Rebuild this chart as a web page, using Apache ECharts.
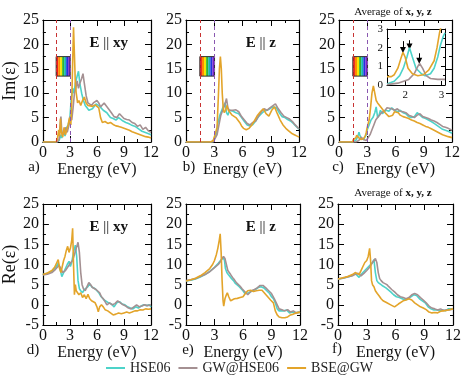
<!DOCTYPE html>
<html><head><meta charset="utf-8">
<script src="https://cdn.jsdelivr.net/npm/echarts@6/dist/echarts.min.js"></script>
<style>html,body{margin:0;padding:0;background:#fff}#c{width:474px;height:384px}</style>
</head><body><div id="c"></div>
<script>
const seriesNames = ['HSE06', 'GW@HSE06', 'BSE@GW'];

// ---- Im(eps), E || xy
const imXY_HSE06 = [[0,0],[1.5,0],[1.8,0.3],[2.0,1.5],[2.1,0.8],[2.3,2.5],[2.45,1.2],[2.6,2.8],[2.8,3.5],[3.0,5],[3.15,9],[3.3,11],[3.45,10],[3.6,12],[3.8,13.5],[3.95,14.5],[4.1,12],[4.3,10],[4.5,8.5],[4.7,7.5],[4.9,7],[5.1,6.5],[5.3,6.3],[5.5,6.8],[5.7,7],[5.9,7.8],[6.1,8],[6.3,7.3],[6.5,7.5],[6.7,6.5],[6.9,6.8],[7.1,6],[7.3,5.5],[7.5,5],[7.8,4.8],[8.1,4.5],[8.4,5],[8.6,4.8],[8.9,4.3],[9.2,4.0],[9.5,3.8],[9.8,3.5],[10.1,3.3],[10.4,3.0],[10.7,2.6],[11.0,2.2],[11.3,2.0],[11.6,1.8],[12,1.5]];
const imXY_GW = [[0,0],[1.6,0],[1.8,0.5],[1.9,3],[2.0,5.2],[2.1,2],[2.3,1.5],[2.5,3],[2.7,2],[2.9,3.5],[3.05,5.3],[3.2,4.5],[3.35,7],[3.5,10],[3.65,11],[3.8,12.5],[3.95,11],[4.1,12],[4.3,13],[4.45,14],[4.6,12],[4.8,9.5],[5.0,8],[5.2,8.2],[5.4,7.5],[5.6,8],[5.8,7.8],[6.0,8.5],[6.2,8],[6.4,7.2],[6.6,7.6],[6.8,8],[7.0,7.5],[7.2,7.8],[7.4,6.5],[7.6,6],[7.9,5.2],[8.2,5.0],[8.5,5.8],[8.7,5.5],[9.0,4.8],[9.3,4.6],[9.6,4.5],[9.9,4.0],[10.2,3.8],[10.5,3.2],[10.8,3.5],[11.1,2.6],[11.4,3.0],[11.7,2.3],[12,2.0]];
const imXY_BSE = [[0,0],[1.45,0],[1.6,0.5],[1.75,2.5],[1.85,1.2],[1.95,4.8],[2.05,2.0],[2.2,1.0],[2.35,3.0],[2.5,1.5],[2.65,2.5],[2.8,3.5],[2.95,5],[3.1,3.5],[3.2,8],[3.3,16],[3.4,23.5],[3.5,18],[3.6,12],[3.7,10],[3.85,8],[4.0,8.5],[4.2,7.5],[4.4,8.5],[4.6,9.2],[4.8,8],[5.0,7.5],[5.2,7.8],[5.5,7.3],[5.8,7.6],[6.0,7.8],[6.2,7],[6.4,5],[6.6,4],[6.9,4.2],[7.2,3.8],[7.5,4],[7.8,3.6],[8.1,3.3],[8.4,3.2],[8.7,3.0],[9.0,2.8],[9.3,2.6],[9.6,2.4],[9.9,2.1],[10.2,1.9],[10.5,1.7],[10.8,1.5],[11.1,1.3],[11.4,1.1],[11.7,1.0],[12,0.8]];

// ---- Im(eps), E || z
const imZ_HSE06 = [[0,0],[2.8,0],[3.0,0.3],[3.2,1.5],[3.4,4],[3.6,5.5],[3.8,6.5],[4.0,7.5],[4.15,8],[4.3,6],[4.45,5.5],[4.6,6.5],[4.8,6.2],[5.0,6.3],[5.3,6.0],[5.6,5.8],[5.9,5],[6.2,4.2],[6.5,3.5],[6.8,3.3],[7.1,3.6],[7.4,4.3],[7.7,5.2],[8.0,5.8],[8.3,6.3],[8.6,6.5],[8.9,6.8],[9.2,7.2],[9.4,7.5],[9.6,7],[9.9,6],[10.2,5.2],[10.5,5],[10.8,4.6],[11.1,4.3],[11.4,3.8],[11.7,3.2],[12,2.6]];
const imZ_GW = [[0,0],[2.9,0],[3.1,0.2],[3.3,1.5],[3.5,3.5],[3.7,5.5],[3.9,6.5],[4.1,7.5],[4.3,8.9],[4.45,7],[4.6,6.5],[4.8,6.8],[5.0,6.5],[5.3,6.6],[5.6,6.2],[5.9,5.2],[6.2,4.5],[6.5,3.8],[6.8,3.5],[7.1,4],[7.4,4.3],[7.7,5.3],[8.0,6.2],[8.3,6.8],[8.6,6.5],[8.9,7],[9.2,7.4],[9.5,7.8],[9.8,6.8],[10.1,6],[10.4,5.3],[10.7,5],[11.0,4.7],[11.3,4.2],[11.6,3.5],[12,2.7]];
const imZ_BSE = [[0,0],[2.6,0],[2.9,0.3],[3.1,0.6],[3.3,3],[3.45,10],[3.55,15],[3.65,17.5],[3.75,15],[3.85,10],[3.95,7],[4.05,6],[4.2,6.5],[4.35,7.5],[4.5,6.5],[4.7,6],[4.9,5.5],[5.1,5.8],[5.3,5],[5.5,4.5],[5.7,4],[5.9,3.3],[6.1,2.8],[6.4,2.5],[6.7,2.8],[7.0,3.5],[7.3,4.5],[7.6,5.5],[7.9,6.2],[8.2,6.8],[8.5,5.8],[8.8,5.3],[9.1,6.5],[9.4,7.2],[9.7,5.8],[10.0,4.5],[10.3,3.5],[10.6,2.8],[10.9,2.3],[11.2,1.8],[11.5,1.5],[11.8,1.2],[12,1.0]];

// ---- Im(eps), average of x, y, z
const imAvg_HSE06 = [[0,0],[1.5,0],[1.7,0.2],[1.85,0.5],[1.95,0.9],[2.05,1.5],[2.12,2.0],[2.2,1.5],[2.3,0.9],[2.45,0.6],[2.6,0.5],[2.8,0.9],[2.9,1.5],[3.0,2.5],[3.2,3.5],[3.4,4.5],[3.6,5],[3.8,6],[3.95,7.2],[4.1,5],[4.25,5.5],[4.4,6.5],[4.6,5.8],[4.8,6],[5.0,6.5],[5.3,6.3],[5.6,7],[5.9,6.5],[6.2,6.2],[6.5,6.5],[6.8,6],[7.1,5.8],[7.4,5.2],[7.7,5],[8.0,5.2],[8.3,6],[8.6,5.5],[8.9,5],[9.2,4.8],[9.5,4.5],[9.8,4.2],[10.1,3.8],[10.4,3.4],[10.7,3.0],[11.0,2.6],[11.3,2.4],[11.6,2.2],[12,1.8]];
const imAvg_GW = [[0,0],[1.8,0],[2.1,0.3],[2.25,0.6],[2.35,1.0],[2.4,1.15],[2.48,0.9],[2.58,0.5],[2.7,0.35],[2.9,0.3],[3.1,0.5],[3.3,1.5],[3.5,2.5],[3.7,3.5],[3.9,4.5],[4.1,5],[4.3,5.5],[4.5,6],[4.7,5.8],[4.9,6.5],[5.1,7],[5.3,7.2],[5.6,6.8],[5.9,6.5],[6.2,6.8],[6.5,6.3],[6.8,6.2],[7.1,6],[7.4,5.5],[7.7,5.3],[8.0,5.0],[8.3,5.5],[8.6,5.8],[8.9,5.2],[9.2,5],[9.5,4.8],[9.8,4.5],[10.1,4.3],[10.4,4.0],[10.7,3.6],[11.0,3.2],[11.3,3.0],[11.6,2.8],[12,2.4]];
const imAvg_BSE = [[0,0],[1.45,0],[1.5,0.45],[1.62,0.45],[1.7,0.55],[1.8,0.9],[1.88,1.4],[1.94,1.8],[2.0,1.5],[2.08,0.9],[2.2,0.6],[2.35,0.5],[2.5,0.55],[2.65,0.8],[2.8,1.3],[2.9,2.0],[2.97,2.8],[3.05,3.2],[3.2,4.5],[3.35,7],[3.5,10],[3.65,11.5],[3.8,10],[3.95,8.5],[4.1,8],[4.3,7.6],[4.5,7],[4.7,6.5],[4.9,6],[5.1,5.8],[5.3,5.2],[5.5,5.0],[5.7,5.5],[5.9,6.2],[6.1,6.5],[6.3,6],[6.5,5.5],[6.8,5.2],[7.1,5.0],[7.4,4.8],[7.7,4.5],[8.0,4.3],[8.3,4.0],[8.6,3.8],[8.9,3.5],[9.2,3.2],[9.5,3.0],[9.8,2.7],[10.1,2.4],[10.4,2.1],[10.7,1.8],[11.0,1.5],[11.3,1.3],[11.6,1.1],[12,0.9]];

// ---- Inset (average, 1.5-3.1 eV)
const inset_HSE06 = [[1.5,0.05],[1.7,0.2],[1.85,0.5],[1.95,0.9],[2.05,1.5],[2.12,2.0],[2.2,1.5],[2.3,0.9],[2.45,0.6],[2.55,0.5],[2.7,0.6],[2.8,0.9],[2.9,1.5],[2.97,2.1],[3.05,2.6],[3.1,2.8]];
const inset_GW = [[1.5,0.02],[1.8,0.1],[2.1,0.3],[2.25,0.6],[2.35,1.0],[2.4,1.15],[2.48,0.9],[2.58,0.5],[2.7,0.35],[2.9,0.3],[3.1,0.3]];
const inset_BSE = [[1.5,0.45],[1.55,0.55],[1.62,0.45],[1.7,0.55],[1.8,0.9],[1.88,1.4],[1.94,1.75],[2.0,1.5],[2.08,0.9],[2.2,0.6],[2.35,0.5],[2.5,0.55],[2.65,0.8],[2.8,1.3],[2.88,2.0],[2.95,2.8],[3.0,3.2],[3.1,3.5]];
const insetArrows = [[1.94, 2.35, 1.88], [2.12, 2.4, 2.06], [2.39, 1.7, 1.3]];

// ---- Re(eps), E || xy
const reXY_HSE06 = [[0,7.5],[0.5,7.8],[1.0,8.3],[1.4,9.2],[1.7,10.3],[1.9,9],[2.1,7],[2.3,8],[2.5,9],[2.7,10],[2.9,10.8],[3.05,9.5],[3.2,10.5],[3.4,13],[3.6,14.8],[3.75,12],[3.9,6],[4.05,4],[4.2,3.5],[4.4,3],[4.6,3.8],[4.8,4.2],[5.0,4.5],[5.2,5.2],[5.4,4.5],[5.6,4.8],[5.8,4],[6.0,3.5],[6.2,3],[6.4,2.2],[6.6,1.8],[6.8,1.2],[7.0,1],[7.3,0.5],[7.6,0.2],[7.9,-0.5],[8.2,0.5],[8.5,0.8],[8.8,0.2],[9.1,0],[9.4,-0.5],[9.7,-0.8],[10.0,-1],[10.3,-0.5],[10.6,-0.8],[10.9,-0.3],[11.2,0],[11.5,-0.2],[11.8,0],[12,-0.5]];
const reXY_GW = [[0,7.4],[0.5,7.6],[1.0,8],[1.4,8.8],[1.8,9.8],[2.0,9],[2.2,8],[2.5,8.5],[2.8,9.5],[3.1,10.5],[3.3,11],[3.5,12.5],[3.7,14],[3.9,15.5],[4.05,13],[4.2,8],[4.35,5],[4.5,4],[4.7,3.5],[4.9,4.5],[5.1,5.5],[5.3,5],[5.5,4.3],[5.7,4.5],[5.9,3.8],[6.1,3.5],[6.3,3],[6.5,2],[6.7,1.5],[6.9,0.8],[7.1,0],[7.4,0.5],[7.7,0],[8.0,0.3],[8.3,1],[8.6,0.5],[8.9,0],[9.2,-0.3],[9.5,-0.8],[9.8,-1],[10.1,-0.5],[10.4,0],[10.7,-0.5],[11.0,-0.3],[11.3,0],[11.6,-0.2],[12,0]];
const reXY_BSE = [[0,7.5],[0.5,7.9],[1.0,8.5],[1.3,9.3],[1.55,10.5],[1.7,11.2],[1.85,9],[2.0,8],[2.15,9.5],[2.3,11],[2.45,12],[2.6,13.5],[2.75,14.5],[2.9,13],[3.05,14],[3.2,16],[3.3,19],[3.4,10],[3.5,2.5],[3.6,5],[3.7,3.5],[3.85,3],[4.0,2.5],[4.2,3],[4.4,1.8],[4.6,2.5],[4.8,1.5],[5.0,2.6],[5.2,1.5],[5.4,1],[5.6,1.2],[5.8,0.5],[6.0,-0.5],[6.15,-1.7],[6.3,-0.5],[6.5,0],[6.7,-0.5],[6.9,-1.2],[7.2,-1.5],[7.5,-2],[7.8,-2.5],[8.1,-2.3],[8.4,-2],[8.7,-2.2],[9.0,-2],[9.3,-1.8],[9.6,-2],[9.9,-1.8],[10.2,-1.5],[10.5,-1.5],[10.8,-1.2],[11.1,-1.3],[11.4,-1],[11.7,-1.1],[12,-1]];

// ---- Re(eps), E || z
const reZ_HSE06 = [[0,5.9],[0.5,6.1],[1.0,6.4],[1.5,6.9],[2.0,7.5],[2.5,8.3],[3.0,9.3],[3.4,10.3],[3.7,11.2],[3.9,11.8],[4.05,11],[4.15,9],[4.3,8],[4.45,7.5],[4.6,7.8],[4.8,6.5],[5.0,6],[5.2,5.3],[5.4,5],[5.6,4.5],[5.8,4],[6.0,3.5],[6.2,2.8],[6.4,2.5],[6.6,3],[6.8,3.3],[7.0,3.5],[7.3,3.8],[7.6,4.3],[7.9,4.5],[8.2,4.2],[8.5,3.5],[8.8,2.8],[9.0,2],[9.2,1.5],[9.4,0.5],[9.6,-1],[9.8,-1.5],[10.0,-1.2],[10.3,-1.5],[10.6,-1.3],[10.9,-2],[11.2,-1.8],[11.5,-2],[12,-1.8]];
const reZ_GW = [[0,6],[0.5,6.2],[1.0,6.5],[1.5,7],[2.0,7.5],[2.5,8.2],[3.0,9.2],[3.4,10],[3.7,11],[3.95,12],[4.1,11.5],[4.25,10],[4.4,8.5],[4.55,8],[4.7,7.5],[4.9,6.8],[5.1,6.2],[5.3,5.5],[5.5,5.2],[5.7,4.6],[5.9,4],[6.1,3.5],[6.3,3],[6.5,2.5],[6.7,3],[6.9,3.5],[7.2,3.8],[7.5,4.2],[7.8,4.8],[8.1,4.8],[8.4,4.2],[8.7,3.5],[9.0,2.8],[9.3,1.5],[9.6,0],[9.8,-1],[10.1,-1.2],[10.4,-1.5],[10.7,-1.2],[11.0,-1.8],[11.3,-1.5],[11.6,-2],[12,-1.8]];
const reZ_BSE = [[0,5.9],[0.5,6.2],[1.0,6.6],[1.5,7.2],[2.0,8],[2.5,9],[2.8,10],[3.0,11],[3.2,12.5],[3.35,14],[3.5,16],[3.6,17.6],[3.7,13],[3.8,6],[3.9,1],[3.97,-0.3],[4.1,1.5],[4.25,2.5],[4.35,3],[4.5,2],[4.7,1],[4.9,1.2],[5.1,1.5],[5.4,1.6],[5.7,1.8],[6.0,2],[6.3,3],[6.5,3.5],[6.8,3.6],[7.1,3.3],[7.4,3.5],[7.7,3.6],[8.0,3.6],[8.3,2.8],[8.6,2],[8.9,1.2],[9.2,0.5],[9.4,-1.5],[9.6,-2.5],[9.8,-3],[10.1,-3.2],[10.4,-3.2],[10.7,-3],[11.0,-2.5],[11.3,-2.3],[11.6,-2],[12,-1.8]];

// ---- Re(eps), average of x, y, z
const reAvg_HSE06 = [[0,6.4],[0.5,6.6],[1.0,6.9],[1.5,7.3],[1.8,7.8],[2.0,7.5],[2.2,6.8],[2.4,7.5],[2.6,8],[2.8,8.5],[3.0,8.8],[3.2,9.5],[3.4,10],[3.6,10.5],[3.75,11.2],[3.9,8],[4.05,6],[4.2,5.5],[4.4,5.2],[4.6,4.8],[4.8,4.5],[5.0,4.2],[5.2,3.8],[5.5,3.2],[5.8,2.5],[6.1,2],[6.4,1.8],[6.7,1.5],[7.0,1.2],[7.3,1.5],[7.6,2],[7.9,2.5],[8.2,2.3],[8.5,1.5],[8.8,1],[9.1,0.5],[9.4,-0.5],[9.7,-1],[10.0,-1.3],[10.3,-1.2],[10.6,-1.5],[10.9,-1.2],[11.2,-1.5],[11.5,-1],[12,-1]];
const reAvg_GW = [[0,6.4],[0.5,6.6],[1.0,6.9],[1.5,7.2],[1.8,7.6],[2.1,7.8],[2.4,7.2],[2.7,7.8],[3.0,8.5],[3.3,9.3],[3.6,10.5],[3.9,11.5],[4.05,10.5],[4.2,8],[4.35,6.5],[4.5,6],[4.7,5.5],[4.9,5.2],[5.1,5],[5.3,4.5],[5.6,3.8],[5.9,3.2],[6.2,2.5],[6.5,2],[6.8,1.8],[7.1,1.5],[7.4,1.8],[7.7,2.5],[8.0,2.8],[8.3,2.5],[8.6,1.8],[8.9,1.2],[9.2,0.5],[9.5,-0.3],[9.8,-0.8],[10.1,-1],[10.4,-1.3],[10.7,-1],[11.0,-1.4],[11.3,-1.2],[11.6,-1.3],[12,-1]];
const reAvg_BSE = [[0,6.4],[0.5,6.7],[1.0,7],[1.5,7.5],[1.8,8],[2.0,7.8],[2.2,7.5],[2.4,8.5],[2.6,9.5],[2.8,10.5],[3.0,11],[3.15,12],[3.3,14],[3.4,11],[3.5,6],[3.6,5],[3.75,4.5],[3.9,3.5],[4.1,2.8],[4.3,2.2],[4.5,1.5],[4.7,1],[4.9,0.8],[5.1,0.5],[5.3,0.2],[5.5,0],[5.7,-0.3],[5.9,-0.5],[6.1,-0.3],[6.3,0.2],[6.5,0.5],[6.8,1],[7.1,1.2],[7.4,1.5],[7.7,1.2],[8.0,0.5],[8.3,0],[8.6,-0.5],[8.9,-0.8],[9.2,-1.2],[9.5,-1.8],[9.8,-2],[10.1,-1.9],[10.4,-2],[10.7,-1.6],[11.0,-1.5],[11.3,-1.4],[11.6,-1.2],[12,-1]];

const visibleEdges = [1.47, 3.03];
const rainbowRange = [13.5, 17.5];
const rainbowColors = ['#ee1c1c', '#ff8c00', '#f5e600', '#2fb52f', '#18b4b4', '#2233dd', '#7a22c8'];
const panelLabels = ['a)', 'b)', 'c)', 'd)', 'e)', 'f)'];

// ---------------- build chart ----------------
const F = 'Liberation Serif';
const colors = ['#4dd3c9', '#a49092', '#e3a42a'];
const panelData = [
  [imXY_HSE06, imXY_GW, imXY_BSE],
  [imZ_HSE06, imZ_GW, imZ_BSE],
  [imAvg_HSE06, imAvg_GW, imAvg_BSE],
  [reXY_HSE06, reXY_GW, reXY_BSE],
  [reZ_HSE06, reZ_GW, reZ_BSE],
  [reAvg_HSE06, reAvg_GW, reAvg_BSE]
];
const grids = [
  {left: 38, top: 20, width: 113, height: 122},
  {left: 186, top: 20, width: 113, height: 122},
  {left: 339, top: 20, width: 113, height: 122},
  {left: 37, top: 204, width: 114, height: 121},
  {left: 186, top: 204, width: 114, height: 121},
  {left: 338, top: 204, width: 115, height: 121},
  {left: 387, top: 29, width: 58, height: 56, show: true, backgroundColor: '#fff', borderWidth: 0}
];

const axLine = {show: true, onZero: false, lineStyle: {color: '#000', width: 1.2}};
const xAxes = [], yAxes = [], series = [];
for (let p = 0; p < 6; p++) {
  const top = p < 3;
  const base = {type: 'value', gridIndex: p, min: 0, max: 12, interval: 3, splitLine: {show: false},
    axisLine: axLine, axisTick: {inside: true, length: 6, lineStyle: {color: '#000'}},
    minorTick: {show: true, splitNumber: 2, length: 3, lineStyle: {color: '#000'}}};
  xAxes.push(Object.assign({}, base, {position: 'bottom',
    axisLabel: {fontFamily: F, fontSize: 16, color: '#111', margin: 3},
    name: 'Energy (eV)', nameLocation: 'middle', nameGap: 19,
    nameTextStyle: {fontFamily: F, fontSize: 16, color: '#111'}}));
  xAxes.push(Object.assign({}, base, {position: 'top', axisLabel: {show: false}}));
  const ybase = {type: 'value', gridIndex: p, min: top ? 0 : -5, max: 25, interval: 5, splitLine: {show: false},
    axisLine: axLine, axisTick: {inside: true, length: 6, lineStyle: {color: '#000'}},
    minorTick: {show: true, splitNumber: 2, length: 3, lineStyle: {color: '#000'}}};
  const yl = Object.assign({}, ybase, {position: 'left',
    axisLabel: {fontFamily: F, fontSize: 16, color: '#111', margin: 4}});
  if (p === 0 || p === 3) {
    yl.name = top ? 'Im(ε)' : 'Re(ε)';
    yl.nameLocation = 'middle';
    yl.nameGap = 21;
    yl.nameTextStyle = {fontFamily: F, fontSize: 18, color: '#111'};
  }
  yAxes.push(yl);
  yAxes.push(Object.assign({}, ybase, {position: 'right', axisLabel: {show: false}}));

  for (let s = 0; s < 3; s++) {
    const ser = {type: 'line', name: seriesNames[s], xAxisIndex: 2 * p, yAxisIndex: 2 * p,
      data: panelData[p][s], showSymbol: false, symbol: 'none', z: 2 + s,
      lineStyle: {color: colors[s], width: 1.6}, itemStyle: {color: colors[s]}};
    if (top && s === 0) {
      const bands = [];
      const w = (visibleEdges[1] - visibleEdges[0]) / rainbowColors.length;
      rainbowColors.forEach((c, i) => {
        bands.push([{xAxis: visibleEdges[0] + i * w, yAxis: rainbowRange[0], itemStyle: {color: c, borderWidth: 0}},
                    {xAxis: visibleEdges[0] + (i + 1) * w, yAxis: rainbowRange[1]}]);
      });
      bands.push([{xAxis: visibleEdges[0], yAxis: rainbowRange[0],
                   itemStyle: {color: 'rgba(0,0,0,0)', borderColor: '#333', borderWidth: 1}},
                  {xAxis: visibleEdges[1], yAxis: rainbowRange[1]}]);
      ser.markArea = {silent: true, label: {show: false}, data: bands};
      ser.markLine = {silent: true, symbol: 'none', label: {show: false},
        data: [
          {xAxis: visibleEdges[0], lineStyle: {color: '#c83232', type: [4, 3], width: 1}},
          {xAxis: visibleEdges[1], lineStyle: {color: '#8a58b0', type: [4, 3], width: 1}}
        ]};
    }
    series.push(ser);
  }
}

// inset axes (grid 6)
const ib = {type: 'value', gridIndex: 6, min: 1.5, max: 3.1, interval: 0.5, splitLine: {show: false},
  axisLine: {show: true, onZero: false, lineStyle: {color: '#000', width: 1}},
  axisTick: {inside: true, length: 4, lineStyle: {color: '#000'}}};
xAxes.push(Object.assign({}, ib, {position: 'bottom',
  axisLabel: {fontFamily: F, fontSize: 11, color: '#111', margin: 5,
    formatter: v => (Math.abs(v - Math.round(v)) < 1e-6 ? String(Math.round(v)) : '')}}));
xAxes.push(Object.assign({}, ib, {position: 'top', axisLabel: {show: false}}));
const iy = {type: 'value', gridIndex: 6, min: 0, max: 3, interval: 1, splitLine: {show: false},
  axisLine: {show: true, onZero: false, lineStyle: {color: '#000', width: 1}},
  axisTick: {inside: true, length: 4, lineStyle: {color: '#000'}},
  minorTick: {show: true, splitNumber: 2, length: 2, lineStyle: {color: '#000'}}};
yAxes.push(Object.assign({}, iy, {position: 'left', axisLabel: {fontFamily: F, fontSize: 11, color: '#111', margin: 4}}));
yAxes.push(Object.assign({}, iy, {position: 'right', axisLabel: {show: false}}));

const insetData = [inset_HSE06, inset_GW, inset_BSE];
for (let s = 0; s < 3; s++) {
  const ser = {type: 'line', name: seriesNames[s], xAxisIndex: 12, yAxisIndex: 12, data: insetData[s],
    showSymbol: false, symbol: 'none', z: 5 + s, lineStyle: {color: colors[s], width: 1.6}, itemStyle: {color: colors[s]}};
  if (s === 2) {
    ser.markLine = {silent: true, symbol: ['none', 'triangle'], symbolSize: [6, 6], label: {show: false},
      lineStyle: {color: '#000', type: 'solid', width: 1},
      data: insetArrows.map(a => [{coord: [a[0], a[1]]}, {coord: [a[0], a[2]]}])};
  }
  series.push(ser);
}

// annotation texts
const graphic = [];
const labelPos = [[34, 167], [189, 167], [338, 167], [33, 350], [188, 350], [337, 349]];
labelPos.forEach((pt, i) => graphic.push({type: 'text', x: pt[0], y: pt[1],
  style: {text: panelLabels[i], font: '15px "Liberation Serif"', fill: '#111', align: 'center', verticalAlign: 'middle'}}));
const ttl = [['xy', 128, 43], ['z', 276, 43], ['xy', 128, 227], ['z', 276, 227]];
ttl.forEach(t => graphic.push({type: 'text', x: t[1], y: t[2],
  style: {text: '{b|E} || {b|' + t[0] + '}', font: '15px "Liberation Serif"', fill: '#111', align: 'right', verticalAlign: 'middle',
    rich: {b: {font: 'bold 15px "Liberation Serif"', fill: '#111'}}}}));
[[393, 12], [393, 193]].forEach(pt => graphic.push({type: 'text', x: pt[0], y: pt[1],
  style: {text: 'Average of {b|x, y, z}', font: '11px "Liberation Serif"', fill: '#111', align: 'center', verticalAlign: 'middle',
    rich: {b: {font: 'bold 11px "Liberation Serif"', fill: '#111'}}}}));

const legendData = seriesNames.map(n => ({name: n, icon: 'rect'}));
const chart = echarts.init(document.getElementById('c'), null, {renderer: 'canvas'});
chart.setOption({
  animation: false,
  backgroundColor: '#fff',
  textStyle: {fontFamily: F},
  grid: grids,
  xAxis: xAxes,
  yAxis: yAxes,
  legend: {data: legendData, left: 106, top: 361, padding: 0, itemWidth: 19, itemHeight: 2, itemGap: 8,
    textStyle: {fontFamily: F, fontSize: 14, color: '#222'}},
  graphic: graphic,
  series: series
});
</script></body></html>
